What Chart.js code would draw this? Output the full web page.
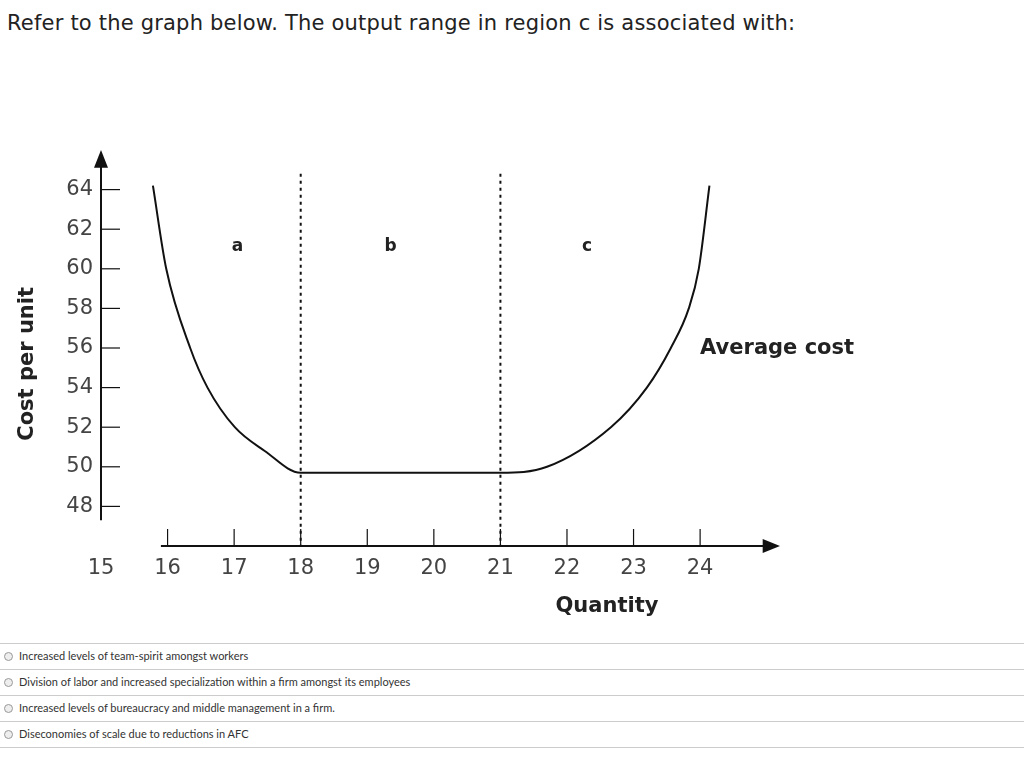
<!DOCTYPE html>
<html>
<head>
<meta charset="utf-8">
<script src="https://cdn.jsdelivr.net/npm/chart.js@4.4.0/dist/chart.umd.min.js"></script>
<style>
  body { margin: 0; background: #fff; font-family: "DejaVu Sans", sans-serif; }
  #q { position: absolute; left: 7px; top: 11px; font-size: 21px; color: #222; letter-spacing: 0.2px; }
  #wrap { position: absolute; left: 0; top: 0; width: 1024px; height: 640px; }
  .opt { position: absolute; left: 0; width: 1024px; height: 25px; border-top: 1px solid #ccc;
         font-family: Lato, sans-serif; font-size: 11px; color: #333; }
  .opt span.r { position: absolute; left: 4px; top: 8px; width: 7px; height: 7px; border: 1px solid #999;
                border-radius: 50%; background: #eee; }
  .opt span.t { position: absolute; left: 19px; top: 5px; }
</style>
</head>
<body>
<div id="q">Refer to the graph below. The output range in region c is associated with:</div>
<div id="wrap"><canvas id="graph1" width="1024" height="640"></canvas></div>
<div class="opt" style="top:643px"><span class="r"></span><span class="t">Increased levels of team-spirit amongst workers</span></div>
<div class="opt" style="top:669px"><span class="r"></span><span class="t">Division of labor and increased specialization within a firm amongst its employees</span></div>
<div class="opt" style="top:695px"><span class="r"></span><span class="t">Increased levels of bureaucracy and middle management in a firm.</span></div>
<div class="opt" style="top:721px;border-bottom:1px solid #ccc"><span class="r"></span><span class="t">Diseconomies of scale due to reductions in AFC</span></div>
<script>
// Average cost curve (quantity, cost per unit)
const costQty  = [15.78, 15.98, 16.34, 16.6, 17.01, 17.46, 18.0, 19.0, 20.0, 21.0, 21.7, 22.66, 23.2, 23.56, 23.83, 23.98, 24.14];
const costVals = [64.2, 60.0, 56.0, 54.0, 52.0, 50.8, 49.7, 49.7, 49.7, 49.7, 50.0, 52.0, 54.0, 56.0, 58.0, 60.0, 64.2];
const xTicks = [15, 16, 17, 18, 19, 20, 21, 22, 23, 24];
const yTicks = [48, 50, 52, 54, 56, 58, 60, 62, 64];
const regionLines = [18, 21];
const regionLabels = [{x: 17.05, t: 'a'}, {x: 19.35, t: 'b'}, {x: 22.3, t: 'c'}];

const decor = {
  id: 'decor',
  afterDatasetsDraw(chart) {
    const c = chart.ctx, xs = chart.scales.x, ys = chart.scales.y;
    const X = v => xs.getPixelForValue(v), Y = v => ys.getPixelForValue(v);
    c.save();
    c.strokeStyle = '#111'; c.fillStyle = '#111'; c.lineWidth = 2;
    // y axis + arrow
    const ax = X(15);
    c.beginPath(); c.moveTo(ax, Y(65.3)); c.lineTo(ax, Y(47.3)); c.stroke();
    c.beginPath(); c.moveTo(ax, Y(66)); c.lineTo(ax - 7, Y(65.1)); c.lineTo(ax + 7, Y(65.1)); c.fill();
    // x axis + arrow
    const ay = Y(46);
    c.beginPath(); c.moveTo(X(15.9), ay); c.lineTo(X(25.0), ay); c.stroke();
    c.beginPath(); c.moveTo(X(25.2), ay); c.lineTo(X(25.0) - 4, ay - 7); c.lineTo(X(25.0) - 4, ay + 7); c.fill();
    // y ticks
    c.lineWidth = 1.2;
    c.font = '21px "DejaVu Sans"'; c.textAlign = 'right'; c.textBaseline = 'middle'; c.fillStyle = '#444';
    yTicks.forEach(v => {
      c.beginPath(); c.moveTo(ax, Y(v)); c.lineTo(ax + 19, Y(v)); c.stroke();
      c.fillText(String(v), ax - 8, Y(v));
    });
    // x ticks
    c.textAlign = 'center'; c.textBaseline = 'top';
    xTicks.forEach(v => {
      if (v > 15) { c.beginPath(); c.moveTo(X(v), ay); c.lineTo(X(v), ay - 17); c.stroke(); }
      c.fillText(String(v), X(v), ay + 12);
    });
    // region dividers
    c.setLineDash([3, 4]); c.lineWidth = 2;
    regionLines.forEach(v => { c.beginPath(); c.moveTo(X(v), Y(64.8)); c.lineTo(X(v), ay); c.stroke(); });
    c.setLineDash([]);
    // labels
    c.fillStyle = '#222'; c.font = 'bold 17px "DejaVu Sans"'; c.textBaseline = 'middle';
    regionLabels.forEach(l => c.fillText(l.t, X(l.x), Y(61.1)));
    c.font = 'bold 21px "DejaVu Sans"'; c.textAlign = 'left';
    c.fillText('Average cost', X(24.0), Y(55.95));
    c.textAlign = 'center';
    c.fillText('Quantity', X(22.6), ay + 61);
    c.translate(28, Y(55.2)); c.rotate(-Math.PI / 2);
    c.fillText('Cost per unit', 0, 0);
    c.restore();
  }
};

new Chart(document.getElementById('graph1'), {
  type: 'scatter',
  data: {
    datasets: [{
      data: costQty.map((q, i) => ({x: q, y: costVals[i]})),
      showLine: true, borderColor: '#111', borderWidth: 2, pointRadius: 0,
      cubicInterpolationMode: 'monotone', fill: false
    }]
  },
  options: {
    responsive: false, animation: false,
    layout: {padding: {left: 101, right: 244, top: 150, bottom: 94}},
    scales: {
      x: {type: 'linear', min: 15, max: 25.2, display: false},
      y: {type: 'linear', min: 46, max: 66, display: false}
    },
    plugins: {legend: {display: false}, tooltip: {enabled: false}}
  },
  plugins: [decor]
});
</script>
</body>
</html>
